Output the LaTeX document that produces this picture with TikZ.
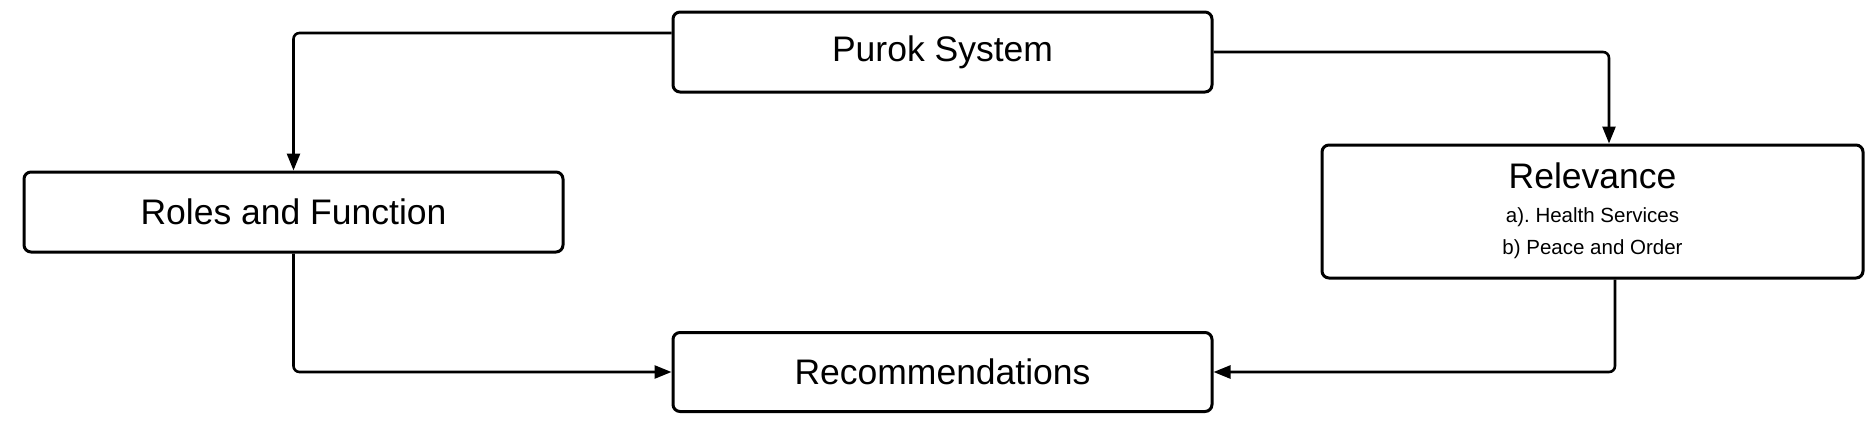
\documentclass[tikz,border=0pt]{standalone}
\usepackage{fontspec}
\setmainfont{Liberation Sans}
\usetikzlibrary{arrows.meta}
\frenchspacing
\begin{document}
\begin{tikzpicture}[x=1pt,y=-1pt,
  box/.style={draw=black, line width=3pt, rounded corners=7pt, fill=white,
    inner sep=0pt, font=\fontsize{35.5}{40}\selectfont},
  conn/.style={draw=black, line width=2.6pt, rounded corners=6pt,
    -{Triangle[length=17pt,width=13pt]}},
  small/.style={font=\fontsize{20.5}{24}\selectfont, inner sep=0pt},
  big/.style={font=\fontsize{35.5}{40}\selectfont, inner sep=0pt}]
\useasboundingbox (0,0) rectangle (1873,426);
\fill[white] (0,0) rectangle (1873,426);
\node[box, minimum width=539pt, minimum height=80pt] (purok) at (942.5,52) {Purok System};
\node[box, minimum width=539pt, minimum height=80pt] (roles) at (293.5,212) {Roles and Function};
\node[box, minimum width=541pt, minimum height=133pt] (rel) at (1592.5,211.5) {};
\node[box, minimum width=539pt, minimum height=79pt] (rec) at (942.5,372) {Recommendations};
\node[big, anchor=base] (relt) at (1592.5,188) {Relevance};
\node[small, anchor=base] (rela) at (1592.5,222) {a). Health Services};
\node[small, anchor=base] (relb) at (1592.5,254) {b) Peace and Order};
\draw[conn] ([yshift=19pt]purok.west) -| (roles.north);
\draw[conn] (purok.east) -| ([xshift=16.5pt]rel.north);
\draw[conn] (roles.south) |- (rec.west);
\draw[conn] ([xshift=22.5pt]rel.south) |- (rec.east);
\end{tikzpicture}
\end{document}
